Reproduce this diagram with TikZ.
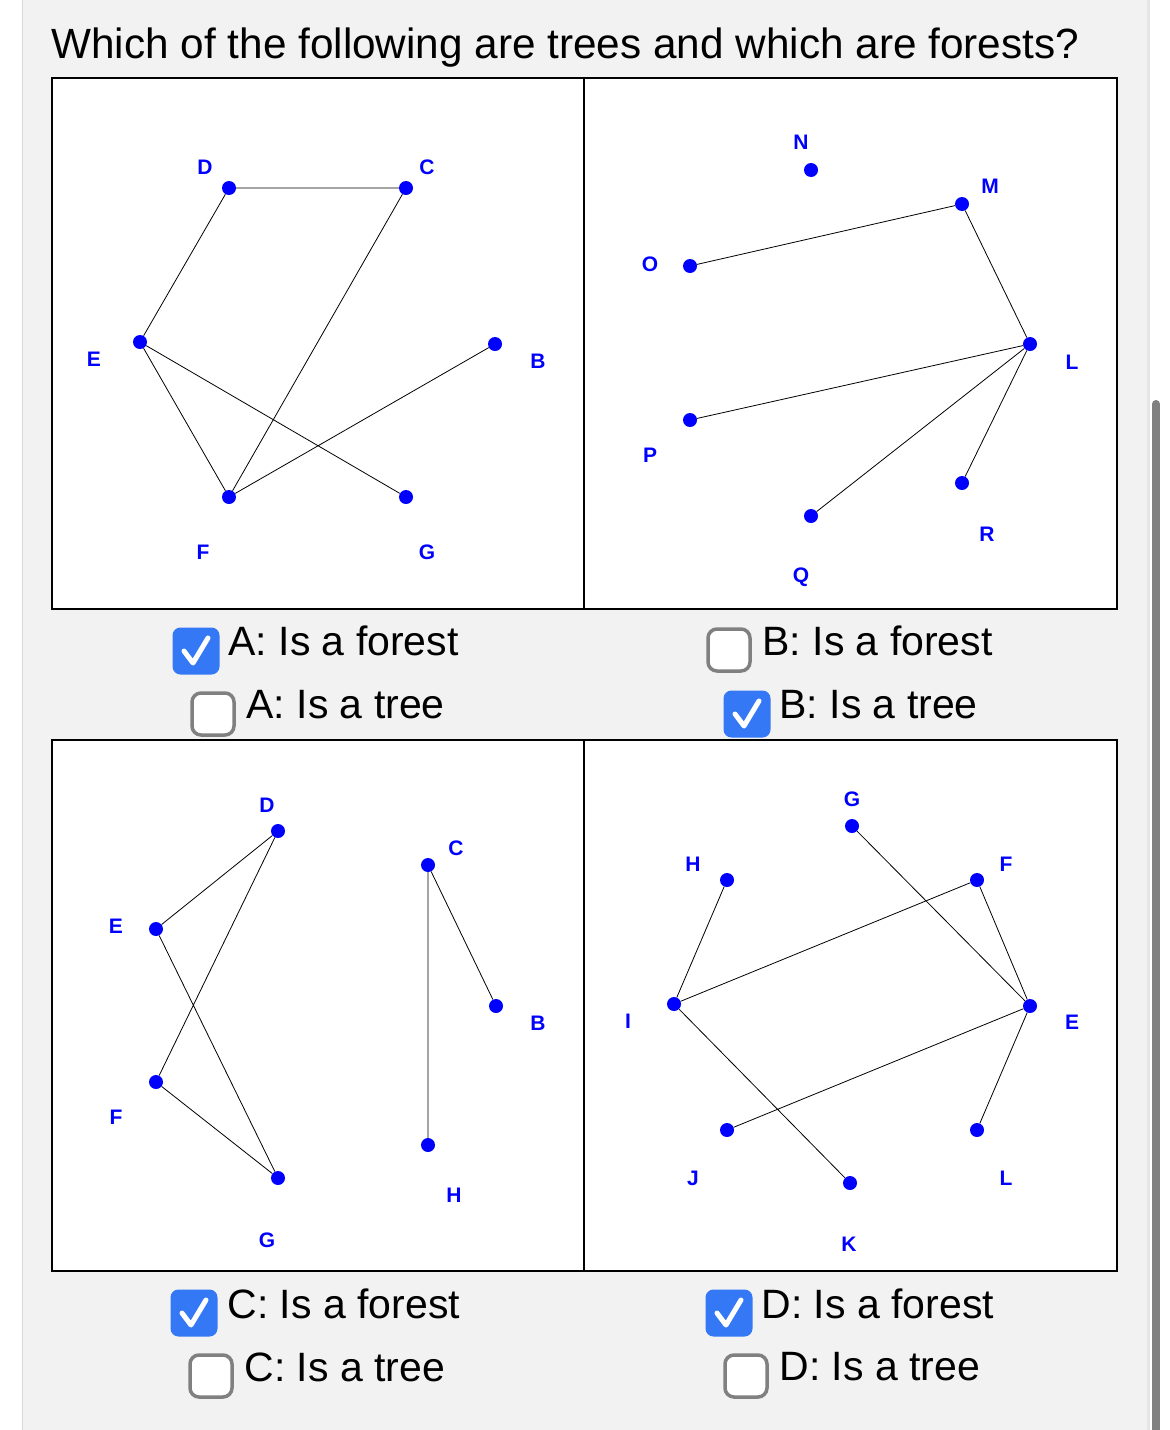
\documentclass[tikz,border=0pt]{standalone}
\usepackage{fontspec}
\setmainfont{Liberation Sans}
\definecolor{iosblue}{HTML}{3478F6}
\begin{document}
\begin{tikzpicture}[x=1pt,y=-1pt,
 dot/.style={circle,fill=blue,inner sep=0pt,minimum size=14pt},
 lab/.style={text=blue,font=\bfseries\fontsize{21}{21}\selectfont},
 edge/.style={draw=black,line width=0.8pt},
 frame/.style={draw=black,line width=1.8pt,fill=white},
 ans/.style={anchor=west,font=\fontsize{41}{45}\selectfont},
 cbon/.style={fill=iosblue,rounded corners=8pt,minimum size=47pt,draw=none},
 cboff/.style={draw=gray,line width=3.5pt,fill=white,rounded corners=9pt,minimum size=42pt},
 tick/.style={white,line width=5pt,line cap=round,line join=round}]
\useasboundingbox (0,0) rectangle (1170,1430);
\fill[white] (0,0) rectangle (1170,1430);
\fill[gray!10] (22,0) rectangle (1147,1430);
\draw[gray!30,line width=1pt] (22,0) -- (22,1430);
\fill[gray!20] (1147,0) rectangle (1150,1430);
\draw[gray,line width=8pt,line cap=round] (1156,404) -- (1156,1430);
\node[anchor=west,font=\fontsize{42.3}{46}\selectfont] (title) at (48,48) {Which of the following are trees and which are forests?};
\draw[frame] (52,78) rectangle (584,609);
\draw[frame] (584,78) rectangle (1117,609);
\draw[frame] (52,740) rectangle (584,1271);
\draw[frame] (584,740) rectangle (1117,1271);
% A
\node[dot] (aD) at (229,188) {}; \node[lab] at (205,167) {D};
\node[dot] (aC) at (406,188) {}; \node[lab] at (427,167) {C};
\node[dot] (aE) at (140,342) {}; \node[lab] at (94,359) {E};
\node[dot] (aB) at (495,344) {}; \node[lab] at (538,361) {B};
\node[dot] (aF) at (229,497) {}; \node[lab] at (203,552) {F};
\node[dot] (aG) at (406,497) {}; \node[lab] at (427,552) {G};
\draw[edge] (aD)--(aC) (aD)--(aE) (aE)--(aF) (aE)--(aG) (aC)--(aF) (aF)--(aB);
% B
\node[dot] (bN) at (811,170) {}; \node[lab] at (801,142) {N};
\node[dot] (bM) at (962,204) {}; \node[lab] at (990,186) {M};
\node[dot] (bO) at (690,266) {}; \node[lab] at (650,264) {O};
\node[dot] (bL) at (1030,344) {}; \node[lab] at (1072,362) {L};
\node[dot] (bP) at (690,420) {}; \node[lab] at (650,455) {P};
\node[dot] (bR) at (962,483) {}; \node[lab] at (987,534) {R};
\node[dot] (bQ) at (811,516) {}; \node[lab] at (801,577) {Q};
\draw[edge] (bO)--(bM) (bM)--(bL) (bL)--(bP) (bL)--(bQ) (bL)--(bR);
% C
\node[dot] (cD) at (278,831) {}; \node[lab] at (267,805) {D};
\node[dot] (cC) at (428,865) {}; \node[lab] at (456,848) {C};
\node[dot] (cE) at (156,929) {}; \node[lab] at (116,926) {E};
\node[dot] (cB) at (496,1006) {}; \node[lab] at (538,1023) {B};
\node[dot] (cF) at (156,1082) {}; \node[lab] at (116,1117) {F};
\node[dot] (cH) at (428,1145) {}; \node[lab] at (454,1195) {H};
\node[dot] (cG) at (278,1178) {}; \node[lab] at (267,1240) {G};
\draw[edge] (cD)--(cE) (cD)--(cF) (cE)--(cG) (cF)--(cG) (cC)--(cB) (cC)--(cH);
% D
\node[dot] (dG) at (852,826) {}; \node[lab] at (852,799) {G};
\node[dot] (dH) at (727,880) {}; \node[lab] at (693,864) {H};
\node[dot] (dF) at (977,880) {}; \node[lab] at (1006,864) {F};
\node[dot] (dI) at (674,1004) {}; \node[lab] at (628,1021) {I};
\node[dot] (dE) at (1030,1006) {}; \node[lab] at (1072,1022) {E};
\node[dot] (dJ) at (727,1130) {}; \node[lab] at (693,1178) {J};
\node[dot] (dL) at (977,1130) {}; \node[lab] at (1006,1178) {L};
\node[dot] (dK) at (850,1183) {}; \node[lab] at (849,1244) {K};
\draw[edge] (dG)--(dE) (dH)--(dI) (dI)--(dF) (dF)--(dE) (dI)--(dK) (dJ)--(dE) (dE)--(dL);
% checkboxes
\node[cbon] (cb1) at (196,651) {}; \draw[tick] (184,651) -- (193,663) -- (208,638);
\node[ans] (t1) at (225,641) {A: Is a forest};
\node[cboff] (cb2) at (213,714) {}; \node[ans] (t2) at (243,705) {A: Is a tree};
\node[cboff] (cb3) at (729,650) {}; \node[ans] (t3) at (759,641) {B: Is a forest};
\node[cbon] (cb4) at (747,714) {}; \draw[tick] (735,714) -- (744,726) -- (759,701);
\node[ans] (t4) at (776,705) {B: Is a tree};
\node[cbon] (cb5) at (194,1313) {}; \draw[tick] (182,1313) -- (191,1325) -- (206,1300);
\node[ans] (t5) at (224,1304) {C: Is a forest};
\node[cboff] (cb6) at (211,1376) {}; \node[ans] (t6) at (241,1367) {C: Is a tree};
\node[cbon] (cb7) at (729,1313) {}; \draw[tick] (717,1313) -- (726,1325) -- (741,1300);
\node[ans] (t7) at (758,1304) {D: Is a forest};
\node[cboff] (cb8) at (746,1376) {}; \node[ans] (t8) at (776,1367) {D: Is a tree};
\end{tikzpicture}
\end{document}
